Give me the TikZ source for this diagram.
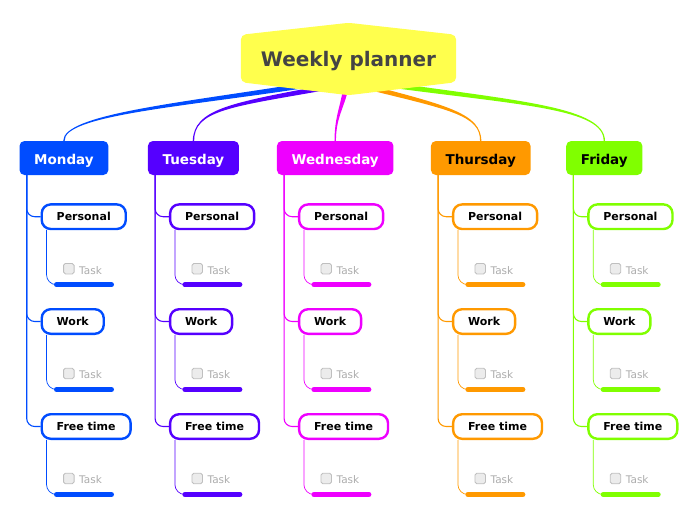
\documentclass[tikz,border=0pt]{standalone}
\usepackage{fontspec}
\setmainfont{DejaVu Sans}
\usepackage{tikz}
\usetikzlibrary{positioning,calc,backgrounds}
\definecolor{mondayblue}{RGB}{0,76,255}
\definecolor{tuesdaypurple}{RGB}{85,0,255}
\definecolor{wednesdaypink}{RGB}{238,0,255}
\definecolor{thursdayorange}{RGB}{255,153,0}
\definecolor{fridaygreen}{RGB}{128,255,0}
\definecolor{hubyellow}{RGB}{255,255,77}
\definecolor{hubtext}{RGB}{68,68,68}

% tapered branch: colour, start offset, start, control 1, control 2, end
\newcommand{\taper}[6]{%
  \fill[#1] ($(#3)+(#2)$) .. controls ($(#4)+0.75*(#2)$) and ($(#5)+0.3*(#2)$) .. ($(#6)+(-0.7,0)$)
    -- ($(#6)+(0.7,0)$) .. controls ($(#5)-0.3*(#2)$) and ($(#4)-0.75*(#2)$) .. ($(#3)-(#2)$) -- cycle;}

\begin{document}
\begin{tikzpicture}[
    x=1pt, y=-1pt,
    hub/.style={minimum width=215pt, minimum height=47pt, inner sep=0pt, text height=16.4pt, text depth=0pt, text=hubtext, font=\fontsize{20}{24}\selectfont\bfseries},
    day/.style={rectangle, rounded corners=5pt, fill=#1, minimum height=34pt, inner xsep=14.7pt, text height=12.4pt, text depth=0pt, anchor=west, font=\fontsize{13.5}{16}\selectfont\bfseries},
    sub/.style={rectangle, rounded corners=9pt, draw=#1, line width=2.4pt, fill=white, minimum height=24.6pt, inner xsep=15pt, inner ysep=0pt, text height=8pt, text depth=0pt, anchor=west, font=\fontsize{11}{13}\selectfont\bfseries},
    stem/.style={draw=#1, line width=1.1pt, rounded corners=8pt},
    twig/.style={draw=#1, line width=0.7pt, rounded corners=10pt},
    bar/.style={draw=#1, line width=5pt, line cap=round},
    box/.style={draw=gray!50, fill=gray!15, rounded corners=1.8pt, minimum size=10.5pt, inner sep=0pt, line width=0.9pt},
    task/.style={text=gray!65, anchor=west, inner sep=0pt, font=\fontsize{10.5}{12}\selectfont}
]
\useasboundingbox (0,0) rectangle (696,520);

% Central topic
\node[hub] (hub) at (348.5,58.5) {Weekly planner};

% Days of the week
\node[day=mondayblue, text=white] (mon) at (19.3,158) {Monday};
\node[day=tuesdaypurple, text=white] (tue) at (147.7,158) {Tuesday};
\node[day=wednesdaypink, text=white] (wed) at (276.7,158) {Wednesday};
\node[day=thursdayorange] (thu) at (430.7,158) {Thursday};
\node[day=fridaygreen] (fri) at (566,158) {Friday};

% Branch roots under the hub
\coordinate (hub-mon) at ($(hub.south)+(-48.5,4)$);
\coordinate (hub-tue) at ($(hub.south)+(-26.5,6)$);
\coordinate (hub-wed) at ($(hub.south)+(-3.5,10)$);
\coordinate (hub-thu) at ($(hub.south)+(23.5,6)$);
\coordinate (hub-fri) at ($(hub.south)+(43.5,3)$);

% Hub to day branches, then the hub shape over them
\begin{scope}[on background layer]
\taper{mondayblue}{0,-2.6}{hub-mon}{180,105}{63,115}{mon.north}
\taper{tuesdaypurple}{0,-2.6}{hub-tue}{230,105}{194,110}{tue.north}
\taper{wednesdaypink}{-2.5,0}{hub-wed}{341,110}{335.5,118}{wed.north}
\taper{thursdayorange}{0,2.5}{hub-thu}{450,108}{480.5,115}{thu.north}
\taper{fridaygreen}{0,2.6}{hub-fri}{520,103}{604.3,108}{fri.north}
\fill[hubyellow, rounded corners=5pt] (hub.north west) -- ($(hub.north)+(0,-12)$) -- (hub.north east)
    -- (hub.south east) -- ($(hub.south)+(0,13)$) -- (hub.south west) -- cycle;
\end{scope}

% Sub topics with their tasks
\foreach \d/\c in {mon/mondayblue, tue/tuesdaypurple, wed/wednesdaypink, thu/thursdayorange, fri/fridaygreen}{
  \coordinate (\d-stem) at ($(\d.south west)+(7.4,0)$);
  \foreach \s/\lbl/\dy in {p/Personal/58.7, w/Work/163.5, f/Free time/268.5}{
    \node[sub=\c] (\d-\s) at ($(\d.west)+(21.2,\dy)$) {\lbl};
    \coordinate (\d-\s-bar) at ($(\d-\s.west)+(16,68)$);
    \node[box] (\d-\s-box) at ($(\d-\s-bar)+(12.3,-16)$) {};
    \node[task] (\d-\s-task) at ($(\d-\s-bar)+(22.5,-14.5)$) {Task};
    \draw[stem=\c] (\d-stem) |- (\d-\s.west);
    \draw[twig=\c] ($(\d-\s.south west)+(6,0)$) |- (\d-\s-bar);
    \draw[bar=\c] (\d-\s-bar) -- ++(55,0);
  }
}

\end{tikzpicture}
\end{document}
